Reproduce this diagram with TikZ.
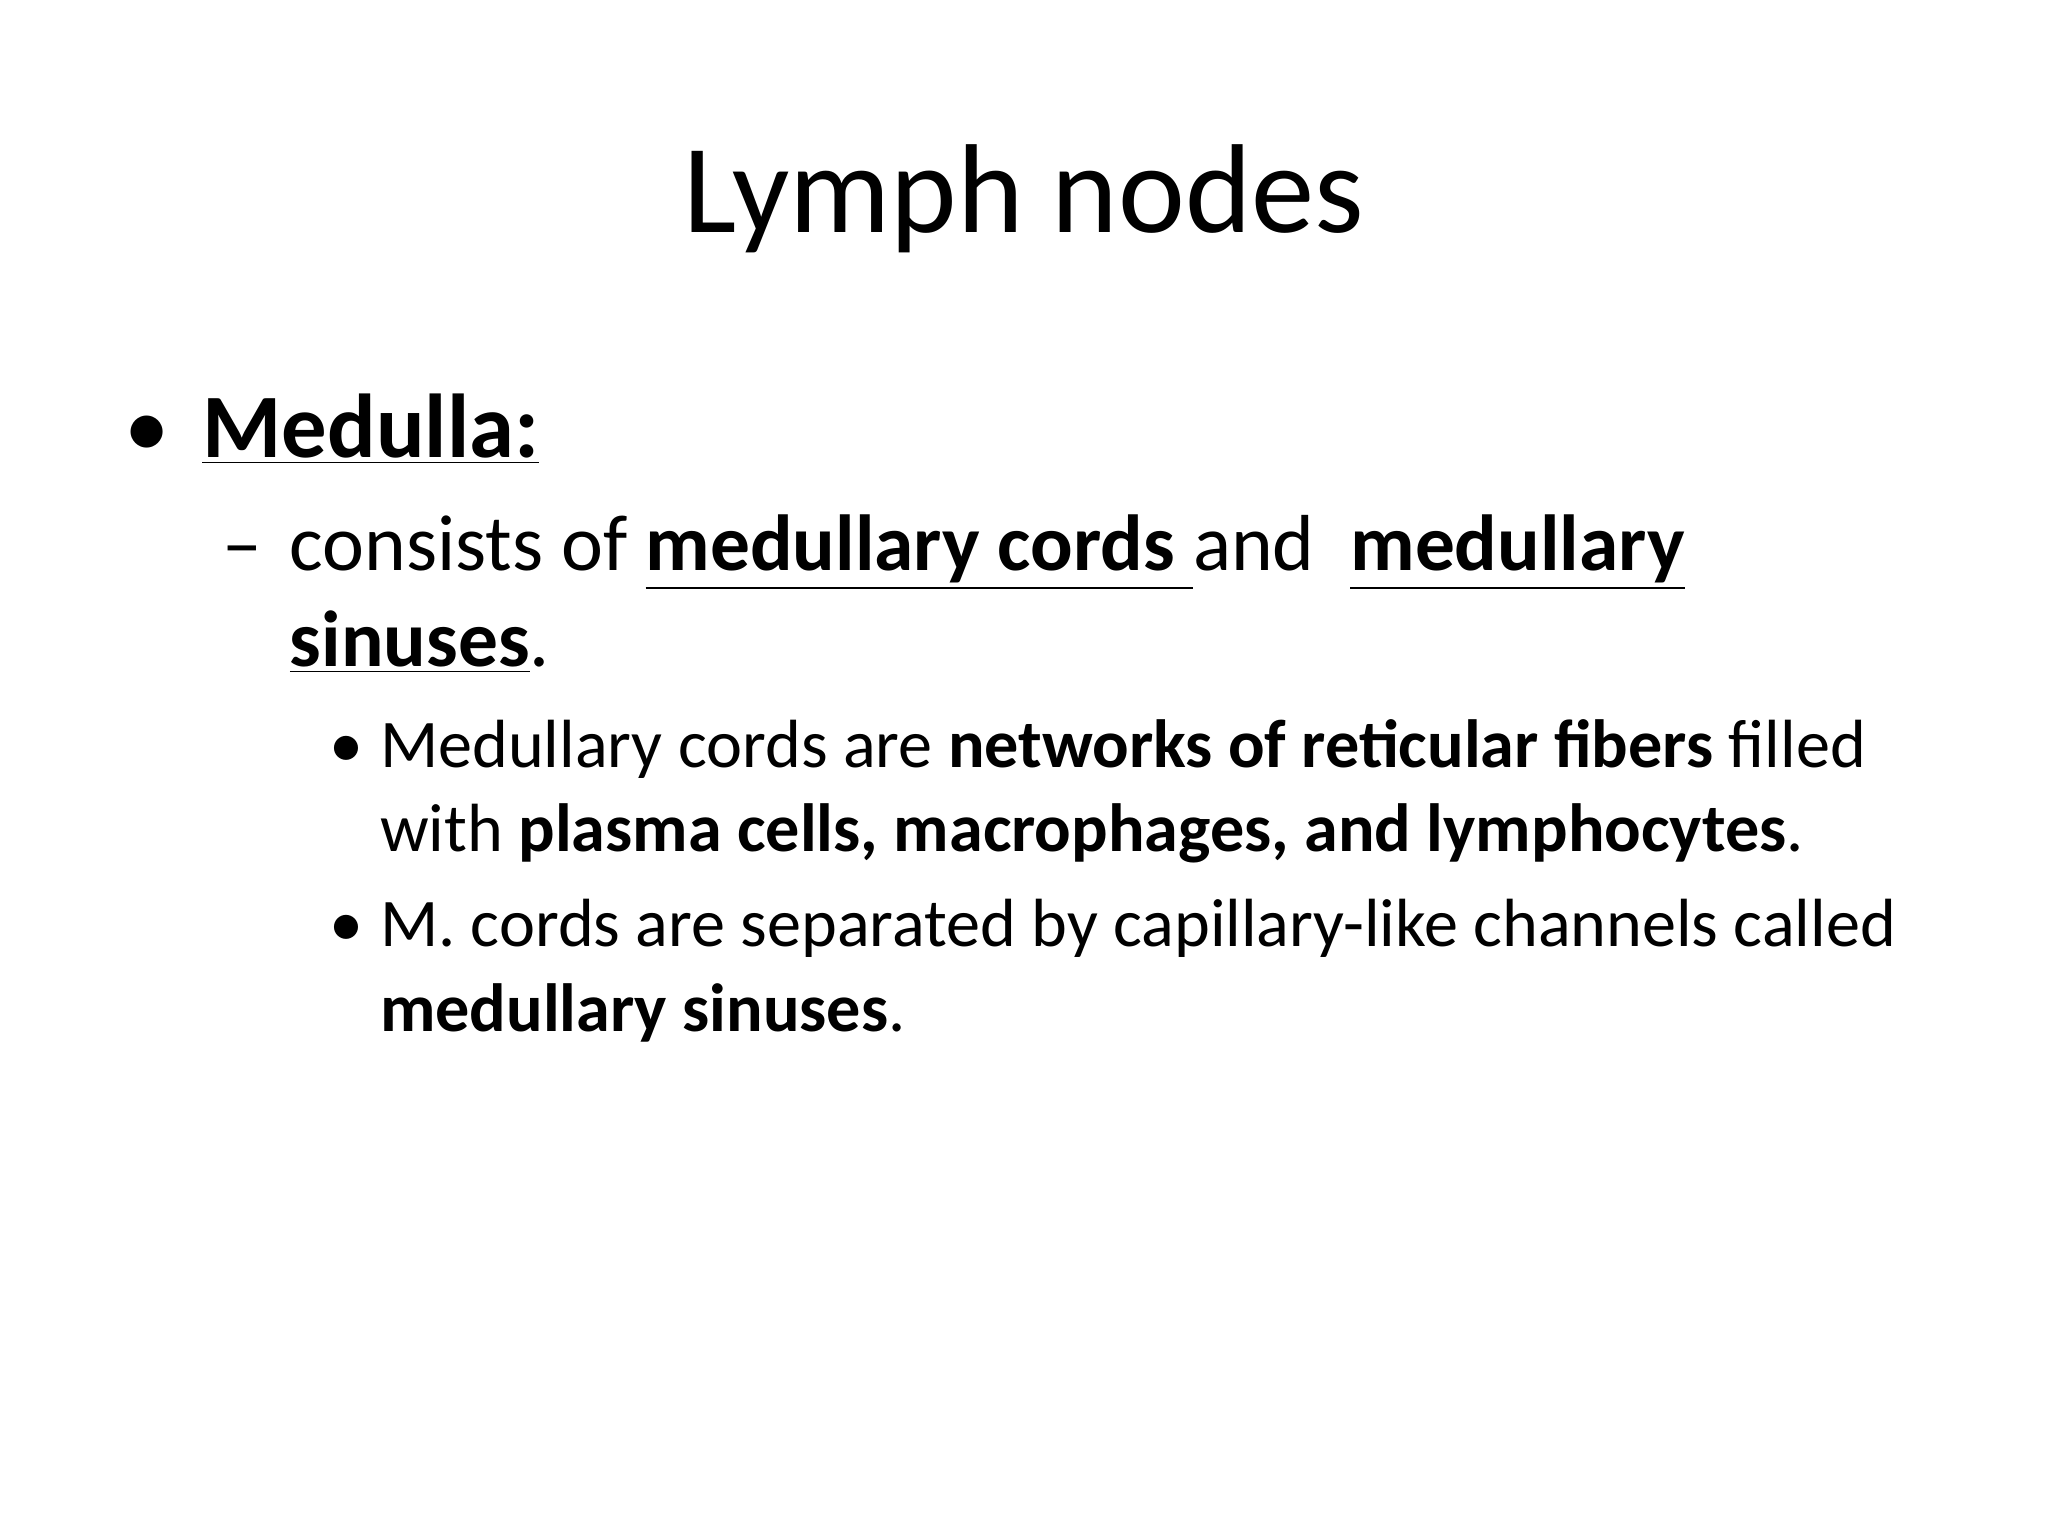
\documentclass[tikz,border=0pt]{standalone}
\usepackage{fontspec}
\setmainfont{Carlito}
\begin{document}
\begin{tikzpicture}[x=0.013061cm,y=-0.013061cm,
  txt/.style={anchor=base west,inner sep=0pt,outer sep=0pt},
  tA/.style={txt,font=\fontsize{36}{40}\selectfont},
  tB/.style={txt,font=\fontsize{25.8}{30}\selectfont},
  tC/.style={txt,font=\fontsize{22.6}{26}\selectfont},
  tD/.style={txt,font=\fontsize{19.4}{23}\selectfont}]
\useasboundingbox (0,0) rectangle (1568,1176);
\node[tA,anchor=base] (title) at (784,178) {Lymph nodes};
\node[tB] (b1) at (95,350) {•};
\node[tB] (med) at (155,350) {\textbf{\underline{Medulla:}}};
\node[tC] (d1) at (170,437) {–};
\node[tC] (l1) at (222,437) {consists of \textbf{\underline{medullary cords\ }}and\ \ \textbf{\underline{medullary}}};
\node[tC] (l2) at (222,510) {\textbf{\underline{sinuses}}.};
\node[tD] (b2) at (252,588) {•};
\node[tD] (m1) at (291,588) {Medullary cords are \textbf{networks of reticular fibers} filled};
\node[tD] (m2) at (291,652) {with \textbf{plasma cells, macrophages, and lymphocytes}.};
\node[tD] (b3) at (252,725) {•};
\node[tD] (m3) at (291,725) {M. cords are separated by capillary-like channels called};
\node[tD] (m4) at (291,790) {\textbf{medullary sinuses}.};
\end{tikzpicture}
\end{document}
